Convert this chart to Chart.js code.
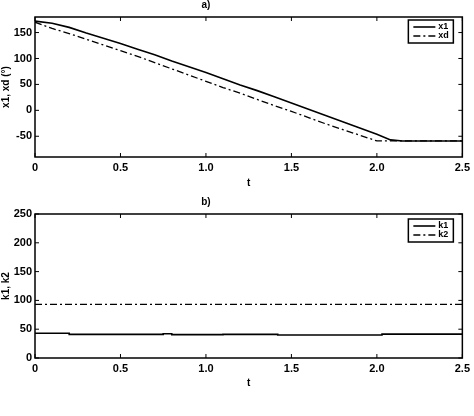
<!DOCTYPE html>
<html>
<head>
<meta charset="utf-8">
<script src="https://cdn.jsdelivr.net/npm/chart.js@4"></script>
<style>
body { margin: 0; background: #fff; width: 474px; height: 416px; overflow: hidden; position: relative; }
.panel { position: absolute; left: 0; width: 474px; }
</style>
</head>
<body>
<div class="panel" style="top:0;height:195px"><canvas id="chartA"></canvas></div>
<div class="panel" style="top:195px;height:200px"><canvas id="chartB"></canvas></div>
<script>
// a) angle tracking
const timeA = [0, 0.1, 0.2, 0.3, 0.4, 0.5, 0.6, 0.7, 0.8, 0.9, 1.0, 1.1, 1.2, 1.3, 1.4, 1.5, 1.6, 1.7, 1.8, 1.9, 2.0, 2.08, 2.15, 2.5]
const x1 = [172, 168, 160, 149, 139, 129, 118, 107, 95, 84, 73, 61, 49, 38, 26, 14, 2, -10, -22, -34, -46, -57, -59, -59]
const timeXd = [0, 0.1, 0.2, 0.3, 0.4, 0.5, 0.6, 0.7, 0.8, 0.9, 1.0, 1.1, 1.2, 1.3, 1.4, 1.5, 1.6, 1.7, 1.8, 1.9, 2.0, 2.5]
const xd = [170, 158, 148, 137, 126, 115, 104, 92, 80, 68, 56, 44, 33, 21, 9, -2, -14, -26, -37, -48, -59, -59]

// b) gains
const timeK1 = [0, 0.2, 0.75, 0.8, 1.1, 1.42, 2.03, 2.5]
const k1 = [43, 41, 42, 40.5, 41, 40, 41.5, 41.5]
const timeK2 = [0, 2.5]
const k2 = [93, 93]

const xTicks = [0, 0.5, 1, 1.5, 2, 2.5]
const yTicksA = [-50, 0, 50, 100, 150]
const yTicksB = [0, 50, 100, 150, 200, 250]

const FONT = 'Liberation Sans, Arial, sans-serif'
const dashDot = [7, 3, 2, 3]

function pts(xs, ys) {
    return xs.map((x, i) => ({ x: x, y: ys[i] }))
}

// box, inward ticks, panel label and boxed legend (matlab look)
const framePlugin = {
    id: 'frame',
    afterDraw(chart, args, opts) {
        const ctx = chart.ctx
        const a = chart.chartArea
        ctx.save()
        ctx.strokeStyle = '#000'
        ctx.lineWidth = 1.5
        ctx.strokeRect(a.left, a.top, a.right - a.left, a.bottom - a.top)

        ctx.lineWidth = 1
        ctx.beginPath()
        chart.scales.x.ticks.forEach(t => {
            const px = chart.scales.x.getPixelForValue(t.value)
            ctx.moveTo(px, a.bottom); ctx.lineTo(px, a.bottom - 4)
            ctx.moveTo(px, a.top); ctx.lineTo(px, a.top + 4)
        })
        chart.scales.y.ticks.forEach(t => {
            const py = chart.scales.y.getPixelForValue(t.value)
            ctx.moveTo(a.left, py); ctx.lineTo(a.left + 4, py)
            ctx.moveTo(a.right, py); ctx.lineTo(a.right - 4, py)
        })
        ctx.stroke()

        // panel label
        ctx.fillStyle = '#000'
        ctx.font = 'bold 10px ' + FONT
        ctx.textAlign = 'center'
        ctx.textBaseline = 'middle'
        ctx.fillText(opts.label, a.left + (a.right - a.left) * 0.4, a.top - opts.labelGap)

        // legend
        const w = 45, h = 23
        const lx = a.right - 9 - w, ly = a.top + opts.legendTop
        ctx.fillStyle = '#fff'
        ctx.fillRect(lx, ly, w, h)
        ctx.lineWidth = 1.5
        ctx.strokeRect(lx, ly, w, h)
        ctx.font = 'bold 9px ' + FONT
        ctx.textAlign = 'left'
        chart.data.datasets.forEach((ds, i) => {
            const yy = ly + 7 + i * 9
            ctx.setLineDash(ds.borderDash || [])
            ctx.lineWidth = ds.borderWidth
            ctx.beginPath()
            ctx.moveTo(lx + 5, yy); ctx.lineTo(lx + 27, yy)
            ctx.stroke()
            ctx.setLineDash([])
            ctx.fillStyle = '#000'
            ctx.fillText(ds.label, lx + 30, yy)
        })
        ctx.restore()
    }
}

function makeChart(id, datasets, yMin, yMax, yTicks, yTitle, xHeight, top, label, labelGap, legendTop) {
    return new Chart(document.getElementById(id), {
        type: 'line',
        data: { datasets: datasets },
        plugins: [framePlugin],
        options: {
            responsive: true,
            maintainAspectRatio: false,
            animation: false,
            layout: { padding: { top: top, right: 10, left: 0, bottom: 0 } },
            elements: { point: { radius: 0 } },
            plugins: {
                legend: { display: false },
                tooltip: { enabled: false },
                frame: { label: label, labelGap: labelGap, legendTop: legendTop }
            },
            scales: {
                x: {
                    type: 'linear',
                    min: 0,
                    max: 2.5,
                    afterBuildTicks: s => { s.ticks = xTicks.map(v => ({ value: v })) },
                    afterFit: s => { s.height = xHeight },
                    grid: { display: false, drawTicks: false },
                    border: { display: false },
                    ticks: { padding: 4, color: '#000', font: { family: FONT, size: 11, weight: 'bold' } },
                    title: { display: true, text: 't', color: '#000', padding: { top: 0, bottom: 6 }, font: { family: FONT, size: 10, weight: 'bold' } }
                },
                y: {
                    min: yMin,
                    max: yMax,
                    afterBuildTicks: s => { s.ticks = yTicks.map(v => ({ value: v })) },
                    afterFit: s => { s.width = 35 },
                    grid: { display: false, drawTicks: false },
                    border: { display: false },
                    ticks: { padding: 3, color: '#000', font: { family: FONT, size: 11, weight: 'bold' } },
                    title: { display: true, text: yTitle, color: '#000', padding: 0, font: { family: FONT, size: 10, weight: 'bold' } }
                }
            }
        }
    })
}

makeChart('chartA', [
    { label: 'x1', data: pts(timeA, x1), borderColor: '#000', borderWidth: 1.6, tension: 0 },
    { label: 'xd', data: pts(timeXd, xd), borderColor: '#000', borderWidth: 1.3, borderDash: dashDot, tension: 0 }
], -90, 180, yTicksA, 'x1, xd (°)', 38, 17, 'a)', 12, 3)

makeChart('chartB', [
    { label: 'k1', data: pts(timeK1, k1), borderColor: '#000', borderWidth: 1.6, stepped: true },
    { label: 'k2', data: pts(timeK2, k2), borderColor: '#000', borderWidth: 1.3, borderDash: dashDot }
], 0, 250, yTicksB, 'k1, k2', 37, 19, 'b)', 12, 5)
</script>
</body>
</html>
